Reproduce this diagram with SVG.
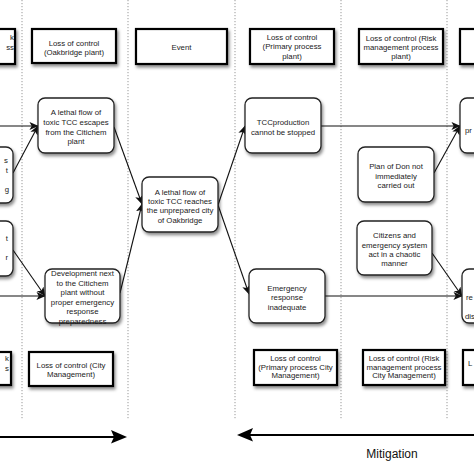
<svg xmlns="http://www.w3.org/2000/svg" width="474" height="474" viewBox="0 0 474 474">
<style>
text{font-family:"Liberation Sans",Arial,sans-serif;font-size:7.8px;fill:#1a1a1a;text-anchor:middle}
.sq{fill:#fff;stroke:#000;stroke-width:2.2}
.rd{fill:#fff;stroke:#222;stroke-width:1.3}
.div{stroke:#999;stroke-width:1;stroke-dasharray:1.2 1.8}
.con{stroke:#111;stroke-width:1.1;fill:none;marker-end:url(#ah)}
</style>
<defs>
<filter id="sh" x="-20%" y="-20%" width="150%" height="160%">
<feDropShadow dx="1.5" dy="2.5" stdDeviation="1.6" flood-color="#000" flood-opacity="0.45"/>
</filter>
<marker id="ah" viewBox="0 0 10 10" refX="9.5" refY="5" markerWidth="9" markerHeight="9" markerUnits="userSpaceOnUse" orient="auto">
<path d="M0,0.5 L10,5 L0,9.5 L2.5,5 z" fill="#111"/>
</marker>
</defs>
<rect width="474" height="474" fill="#fff"/>
<g id="dividers">
<line class="div" x1="22" y1="0" x2="22" y2="420"/>
<line class="div" x1="128" y1="0" x2="128" y2="420"/>
<line class="div" x1="235" y1="0" x2="235" y2="420"/>
<line class="div" x1="341" y1="0" x2="341" y2="420"/>
<line class="div" x1="447" y1="0" x2="447" y2="420"/>
</g>
<g id="connectors">
<line class="con" x1="0" y1="126" x2="38" y2="126"/>
<line class="con" x1="13" y1="173" x2="38" y2="126"/>
<line class="con" x1="0" y1="296" x2="45" y2="296"/>
<line class="con" x1="13" y1="250" x2="45" y2="296"/>
<line class="con" x1="114" y1="127" x2="142" y2="204"/>
<line class="con" x1="120" y1="293" x2="142" y2="204"/>
<line class="con" x1="218" y1="205" x2="245" y2="126"/>
<line class="con" x1="218" y1="205" x2="249" y2="294"/>
<line class="con" x1="321" y1="126" x2="460" y2="126"/>
<line class="con" x1="434" y1="173" x2="460" y2="126"/>
<line class="con" x1="325" y1="296" x2="462" y2="296"/>
<line class="con" x1="432" y1="253" x2="462" y2="296"/>
</g>
<g id="top-left-cut">
<rect class="sq" filter="url(#sh)" x="-80" y="29" width="95" height="35"/>
<text x="14" y="39.5" style="text-anchor:end">k</text>
<text x="14" y="50" style="text-anchor:end">ss</text>
</g>
<g id="top-oakbridge">
<rect class="sq" filter="url(#sh)" x="32" y="29" width="84" height="34"/>
<text x="74" y="45.5">Loss of control</text>
<text x="74" y="54.5">(Oakbridge plant)</text>
</g>
<g id="top-event">
<rect class="sq" filter="url(#sh)" x="136" y="29" width="91" height="35"/>
<text x="181.5" y="49.5">Event</text>
</g>
<g id="top-primary">
<rect class="sq" filter="url(#sh)" x="250" y="29" width="84" height="35"/>
<text x="292" y="39.5">Loss of control</text>
<text x="292" y="49">(Primary process</text>
<text x="292" y="58.5">plant)</text>
</g>
<g id="top-risk">
<rect class="sq" filter="url(#sh)" x="359" y="29" width="84" height="35"/>
<text x="401" y="40.5">Loss of control (Risk</text>
<text x="401" y="50">management process</text>
<text x="401" y="59">plant)</text>
</g>
<g id="top-right-cut">
<rect class="sq" filter="url(#sh)" x="460" y="29" width="90" height="35"/>
</g>
<g id="left-cut-1">
<rect class="rd" filter="url(#sh)" x="-70" y="147" width="83" height="56" rx="7"/>
<text x="8" y="163" style="text-anchor:end">s</text>
<text x="8" y="173" style="text-anchor:end">t</text>
<text x="9" y="192" style="text-anchor:end">g</text>
</g>
<g id="left-cut-2">
<rect class="rd" filter="url(#sh)" x="-70" y="221" width="83" height="55" rx="7"/>
<text x="8" y="241" style="text-anchor:end">t</text>
<text x="8" y="260" style="text-anchor:end">r</text>
</g>
<g id="lethal-escapes">
<rect class="rd" filter="url(#sh)" x="38" y="98" width="76" height="55" rx="7"/>
<text x="76" y="115">A lethal flow of</text>
<text x="76" y="125">toxic TCC escapes</text>
<text x="76" y="134.5">from the Citichem</text>
<text x="76" y="144">plant</text>
</g>
<g id="development">
<rect class="rd" filter="url(#sh)" x="45" y="269" width="75" height="54" rx="7"/>
<text x="82.5" y="276">Development next</text>
<text x="82.5" y="285.5">to the Citichem</text>
<text x="82.5" y="295">plant without</text>
<text x="82.5" y="304.5">proper emergency</text>
<text x="82.5" y="314">response</text>
<text x="82.5" y="323.5">preparedness</text>
</g>
<g id="lethal-reaches">
<rect class="rd" filter="url(#sh)" x="142" y="177" width="76" height="55" rx="7"/>
<text x="180" y="195">A lethal flow of</text>
<text x="180" y="204">toxic TCC reaches</text>
<text x="180" y="213">the unprepared city</text>
<text x="180" y="222.5">of Oakbridge</text>
</g>
<g id="tcc-production">
<rect class="rd" filter="url(#sh)" x="245" y="98" width="76" height="55" rx="7"/>
<text x="283" y="125">TCCproduction</text>
<text x="283" y="135">cannot be stopped</text>
</g>
<g id="emergency">
<rect class="rd" filter="url(#sh)" x="249" y="269" width="76" height="54" rx="7"/>
<text x="287" y="291">Emergency</text>
<text x="287" y="300">response</text>
<text x="287" y="310">inadequate</text>
</g>
<g id="plan-don">
<rect class="rd" filter="url(#sh)" x="358" y="147" width="76" height="55" rx="7"/>
<text x="396" y="169">Plan of Don not</text>
<text x="396" y="179">immediately</text>
<text x="396" y="188">carried out</text>
</g>
<g id="citizens">
<rect class="rd" filter="url(#sh)" x="357" y="221" width="75" height="54" rx="7"/>
<text x="394.5" y="238">Citizens and</text>
<text x="394.5" y="248">emergency system</text>
<text x="394.5" y="257">act in a chaotic</text>
<text x="394.5" y="266">manner</text>
</g>
<g id="right-cut-top">
<rect class="rd" filter="url(#sh)" x="460" y="98" width="80" height="55" rx="7"/>
<text x="465" y="133" style="text-anchor:start">pr</text>
</g>
<g id="right-cut-bottom">
<rect class="rd" filter="url(#sh)" x="462" y="269" width="80" height="54" rx="7"/>
<text x="466" y="300" style="text-anchor:start">re</text>
<text x="465" y="319" style="text-anchor:start">dis</text>
</g>
<g id="bottom-left-cut">
<rect class="sq" filter="url(#sh)" x="-80" y="352" width="91" height="33"/>
<text x="9" y="361" style="text-anchor:end">k</text>
<text x="9" y="371" style="text-anchor:end">s</text>
</g>
<g id="bottom-city">
<rect class="sq" filter="url(#sh)" x="29" y="352" width="84" height="34"/>
<text x="71" y="367.5">Loss of control (City</text>
<text x="71" y="376.5">Management)</text>
</g>
<g id="bottom-primary">
<rect class="sq" filter="url(#sh)" x="254" y="350" width="83" height="35"/>
<text x="295.5" y="360.5">Loss of control</text>
<text x="295.5" y="369.5">(Primary process City</text>
<text x="295.5" y="378">Management)</text>
</g>
<g id="bottom-risk">
<rect class="sq" filter="url(#sh)" x="363" y="350" width="82" height="35"/>
<text x="404" y="360.5">Loss of control (Risk</text>
<text x="404" y="369.5">management process</text>
<text x="404" y="378">City Management)</text>
</g>
<g id="bottom-right-cut">
<rect class="sq" filter="url(#sh)" x="463" y="350" width="90" height="35"/>
<text x="468" y="366" style="text-anchor:start">L</text>
</g>
<g id="timeline">
<line x1="0" y1="437" x2="114" y2="437" stroke="#000" stroke-width="2.2"/>
<path d="M111,430 L127,437 L111,443.5 L114,437 z" fill="#000"/>
<line x1="250" y1="435" x2="474" y2="435" stroke="#000" stroke-width="2.2"/>
<path d="M253,428 L237,435 L253,441.5 L250,435 z" fill="#000"/>
<text x="392" y="458" style="font-size:12px;fill:#111">Mitigation</text>
</g>
</svg>
